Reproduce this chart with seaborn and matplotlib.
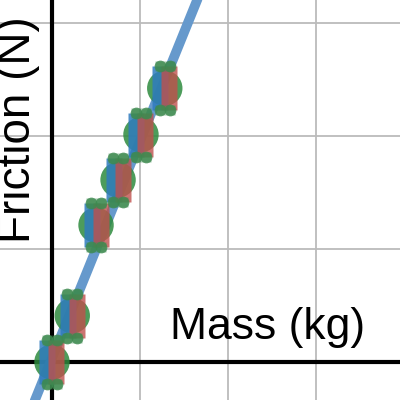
import matplotlib
matplotlib.use("Agg")
import matplotlib.pyplot as plt
import matplotlib.transforms as mt
import seaborn as sns
import numpy as np

mass = [0.0, 0.23, 0.5, 0.75, 1.01, 1.28]
friction = [0.0, 0.41, 1.21, 1.61, 2.01, 2.42]
fit_x = [-0.2, 1.7]
fit_y = [-0.35, 3.3]

sns.set_style("white")
plt.rcParams['font.family'] = ['Liberation Sans', 'DejaVu Sans']
fig = plt.figure(figsize=(4, 4), dpi=100)
ax = fig.add_axes([0, 0, 1, 1])
ax.set_xlim(-0.59, 3.95)
ax.set_ylim(-0.336, 3.2)
for s in ax.spines.values():
    s.set_visible(False)
ax.set_xticks([1, 2, 3]); ax.set_yticks([1, 2, 3])
ax.grid(True, color="#bbbbbb", lw=1.3)
ax.tick_params(length=0, labelbottom=False, labelleft=False)
ax.axhline(0, color="black", lw=3, zorder=2)
ax.axvline(0, color="black", lw=3, zorder=2)

sns.lineplot(x=fit_x, y=fit_y, ax=ax, color="#6699cc", lw=7, zorder=3)
sns.scatterplot(x=mass, y=friction, ax=ax, color="#2e8b3e", s=650, alpha=0.85,
                edgecolor="none", zorder=4)

def off(dx, dy):
    return mt.offset_copy(ax.transData, fig=fig, x=dx, y=dy, units='dots')

bar = [(-0.36, -1), (0.36, -1), (0.36, 1), (-0.36, 1)]
ax.plot(mass, friction, ls="none", marker=bar, ms=31, color="#2f7bbf", alpha=0.85,
        mec="none", transform=off(-4.5, 0), zorder=5)
ax.plot(mass, friction, ls="none", marker=bar, ms=31, color="#c0504d", alpha=0.8,
        mec="none", transform=off(4.5, 0), zorder=5)
for dx in (-5, 5):
    for dy in (-22, 22):
        ax.plot(mass, friction, ls="none", marker="o", ms=8.5, color="#3d8a4f", alpha=0.8,
                mec="none", transform=off(dx, dy), zorder=6)
        ax.plot(mass, friction, ls="none", marker="s", ms=6.5, color="#3d8a4f", alpha=0.5,
                mec="none", transform=off(dx, dy), zorder=6)

ax.text(0.045, 0.675, "Friction (N)", transform=ax.transAxes, rotation=90,
        fontsize=33, ha="center", va="center", color="black")
ax.text(0.67, 0.18, "Mass (kg)", transform=ax.transAxes, fontsize=32,
        ha="center", va="center", color="black")
fig.savefig("out.png", dpi=100)
